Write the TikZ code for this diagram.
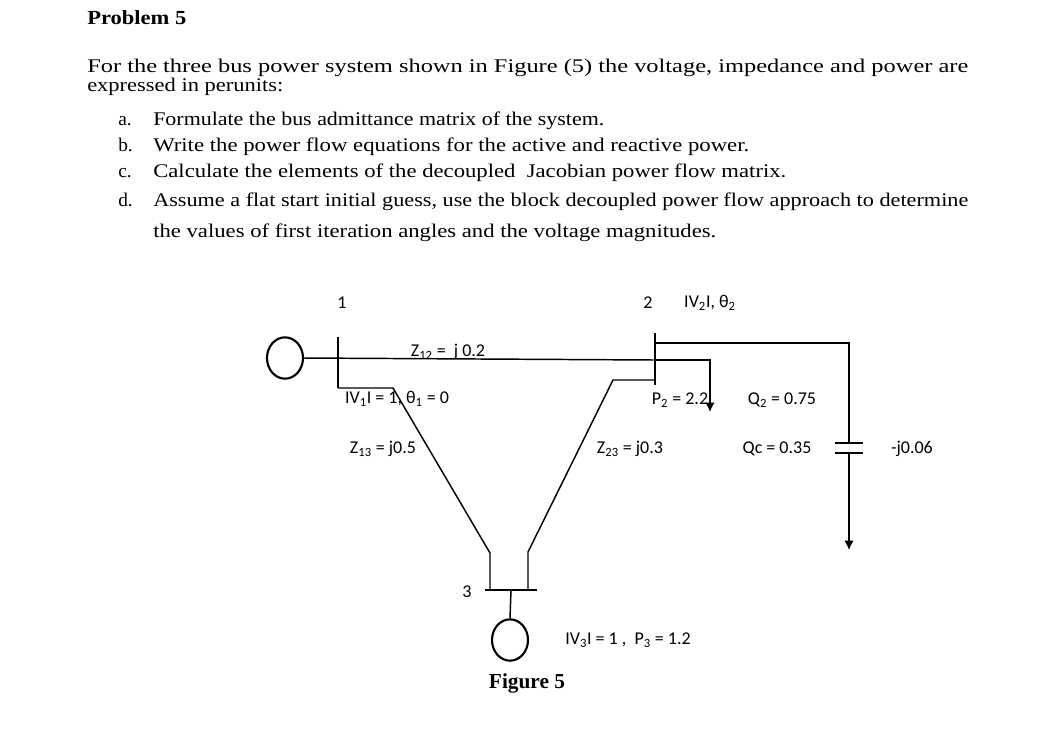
\documentclass[tikz,border=0pt]{standalone}
\usepackage{fontspec}
\usepackage{graphicx}
\usetikzlibrary{shapes.geometric,arrows.meta}
\setmainfont{Liberation Serif}
\newfontfamily\lab{Carlito}
\newcommand\fitw[2]{\resizebox{#1pt}{\height}{#2}}
\begin{document}
\begin{tikzpicture}[x=0.75pt,y=-0.75pt,
  txt/.style={anchor=base west,inner sep=0pt,font=\fontsize{14.5}{17}\selectfont},
  lb/.style={inner sep=0pt,font=\lab\fontsize{13.5}{15}\selectfont},
  wire/.style={line width=1.1pt},
  gen/.style={draw,line width=1.6pt,ellipse,minimum width=27pt,minimum height=31pt,inner sep=0pt}]
\useasboundingbox (0,0) rectangle (1042,754);
% text
\node[txt,font=\bfseries\fontsize{15}{18}\selectfont] (h) at (87,24) {\fitw{74.25}{Problem 5}};
\node[txt] (l1) at (87,72) {\fitw{660.75}{For the three bus power system shown in Figure (5) the voltage, impedance and power are}};
\node[txt] (l2) at (87,91) {\fitw{147}{expressed in perunits:}};
\node[txt] (ia) at (118,125) {a.};
\node[txt] (ta) at (153,125) {\fitw{338.25}{Formulate the bus admittance matrix of the system.}};
\node[txt] (ib) at (118,151) {b.};
\node[txt] (tb) at (153,151) {\fitw{447}{Write the power flow equations for the active and reactive power.}};
\node[txt] (ic) at (118,177) {c.};
\node[txt] (tc) at (153,177) {\fitw{474.75}{Calculate the elements of the decoupled\ \ Jacobian power flow matrix.}};
\node[txt] (id) at (118,206) {d.};
\node[txt] (td) at (153,206) {\fitw{611.25}{Assume a flat start initial guess, use the block decoupled power flow approach to determine}};
\node[txt] (td2) at (153,237) {\fitw{422.25}{the values of first iteration angles and the voltage magnitudes.}};
% generators
\node[gen] (g1) at (285,358) {};
\node[gen] (g3) at (510,640) {};
% buses
\coordinate (b1t) at (338,337); \coordinate (b1b) at (338,388);
\coordinate (b2t) at (655,333); \coordinate (b2b) at (655,385);
\coordinate (b3l) at (485,590); \coordinate (b3r) at (537,590);
\draw[wire,line width=1.6pt] (b1t) -- (b1b);
\draw[wire,line width=1.6pt] (b2t) -- (b2b);
\draw[wire,line width=1.6pt] (b3l) -- (b3r);
% lines
\coordinate (l12e) at (655,360);
\draw[wire] (g1.east) -- (l12e);
\draw[wire] (b1b) -- (393,388) -- (490,553) -- (490,590);
\draw[wire] (655,380) -- (613,380) -- (528,552) -- (528,590);
\draw[wire] (511,590) -- (g3.north);
% load P2
\coordinate (p2) at (710,412);
\draw[wire,-{Latex[length=7pt,width=7pt]}] (l12e) -- (710,360) -- (p2);
% capacitor branch
\coordinate (ce) at (849,550);
\draw[wire] (655,343) -- (849,343) -- (849,443);
\draw[wire,line width=1.8pt] (835,443) -- (863,443);
\draw[wire,line width=1.8pt] (835,453) -- (863,453);
\draw[wire,-{Latex[length=7pt,width=7pt]}] (849,453) -- (ce);
% labels
\node[lb] (n1) at (342,303) {1};
\node[lb] (n2) at (648,303) {2};
\node[lb] (v2) at (710,303) {IV\textsubscript{2}I, θ\textsubscript{2}};
\node[lb] (z12) at (448,352) {Z\textsubscript{12} = \ j 0.2};
\node[lb] (v1) at (397,399) {IV\textsubscript{1}I = 1, θ\textsubscript{1} = 0};
\node[lb] (pp2) at (680,400) {P\textsubscript{2} = 2.2};
\node[lb] (q2) at (782,400) {Q\textsubscript{2} = 0.75};
\node[lb] (qc) at (777,449) {Qc = 0.35};
\node[lb] (xc) at (912,449) {-j0.06};
\node[lb] (z13) at (383,449) {Z\textsubscript{13} = j0.5};
\node[lb] (z23) at (630,449) {Z\textsubscript{23} = j0.3};
\node[lb] (n3) at (467,592) {3};
\node[lb] (v3) at (628,640) {IV\textsubscript{3}I = 1 ,\ \ P\textsubscript{3} = 1.2};
\node[inner sep=0pt,font=\bfseries\fontsize{16}{19}\selectfont] (fig) at (527,683) {Figure 5};
\end{tikzpicture}
\end{document}
